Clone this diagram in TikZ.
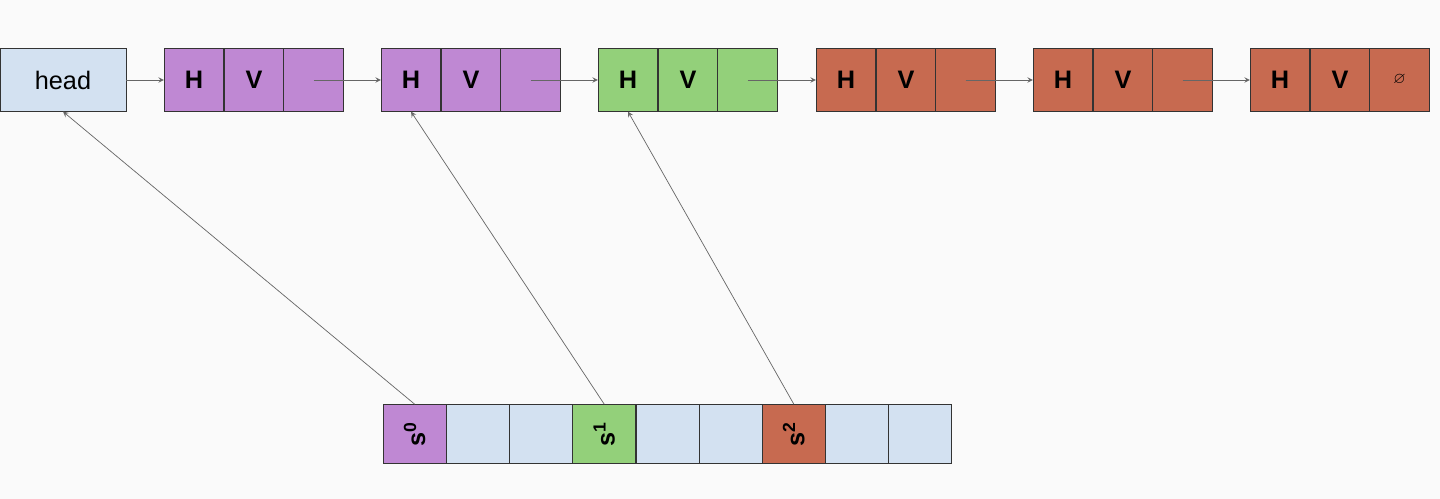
\documentclass[tikz,border=0pt]{standalone}
\usepackage{amssymb}
\usepackage{fontspec}
\setmainfont{Liberation Sans}
\usetikzlibrary{arrows}
\definecolor{purp}{HTML}{BF88D3}
\definecolor{grn}{HTML}{93D07A}
\definecolor{rust}{HTML}{C76A50}
\definecolor{pale}{HTML}{D3E1F1}
\tikzstyle{cell} = [rectangle, draw=black!80, minimum width=1.19cm, minimum height=1.25cm, inner sep=0pt, font=\Large\bfseries]
\tikzstyle{slot} = [rectangle, draw=black!80, minimum width=1.26cm, minimum height=1.18cm, inner sep=0pt, font=\Large\bfseries, fill=pale]
\tikzstyle{arrow} = [draw=black!60, ->, >=stealth]

\begin{document}
\begin{tikzpicture}[x=0.02cm, y=-0.02cm]
\useasboundingbox[fill=black!2] (0,0) rectangle (1440,499);

\node (head) [cell, fill=pale, minimum width=2.52cm, font=\Large] at (63,80) {head};

% list nodes
\foreach \n/\x/\c in {1/164/purp, 2/381/purp, 3/598/grn, 4/816/rust, 5/1033/rust, 6/1250/rust} {
  \node (h\n) [cell, fill=\c] at (\x+30,80) {H};
  \node (v\n) [cell, fill=\c] at (\x+90,80) {V};
  \node (p\n) [cell, fill=\c] at (\x+149.5,80) {};
}
\node at (p6) {\small$\varnothing$};

\draw [arrow] (head) -- (h1);
\foreach \a/\b in {1/2, 2/3, 3/4, 4/5, 5/6} {
  \draw [arrow] (p\a.center) -- (h\b.west);
}

% array
\foreach \i/\c in {0/purp, 1/pale, 2/pale, 3/grn, 4/pale, 5/pale, 6/rust, 7/pale, 8/pale} {
  \node (a\i) [slot, fill=\c] at (383+31.6+63.2*\i,434) {};
}
\node [rotate=90, font=\Large\bfseries] at (a0) {s\textsuperscript{0}};
\node [rotate=90, font=\Large\bfseries] at (a3) {s\textsuperscript{1}};
\node [rotate=90, font=\Large\bfseries] at (a6) {s\textsuperscript{2}};

\draw [arrow] (a0.north) -- (head.south);
\draw [arrow] (a3.north) -- (h2.south);
\draw [arrow] (a6.north) -- (h3.south);
\end{tikzpicture}
\end{document}
